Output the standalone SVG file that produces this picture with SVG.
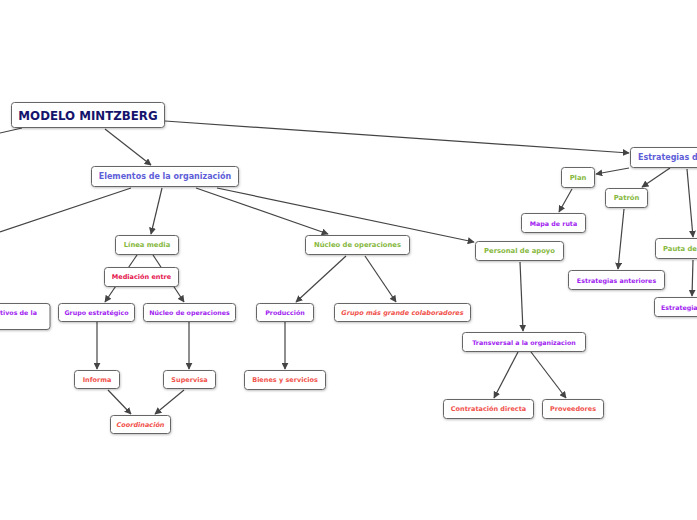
<svg xmlns="http://www.w3.org/2000/svg" width="697" height="520" viewBox="0 0 697 520">
<defs>
<marker id="ah" viewBox="0 0 10 10" refX="9" refY="5" markerWidth="7" markerHeight="7" markerUnits="userSpaceOnUse" orient="auto">
<path d="M0,0 L10,5 L0,10 z" fill="#444"/>
</marker>
<filter id="sh" x="-10%" y="-20%" width="120%" height="150%">
<feDropShadow dx="0.5" dy="1" stdDeviation="0.8" flood-color="#000" flood-opacity="0.25"/>
</filter>
</defs>
<style>
rect{fill:#fff;stroke:#666;stroke-width:1;filter:url(#sh)}
text{font-family:"DejaVu Sans",Verdana,sans-serif;font-weight:bold;text-anchor:middle;dominant-baseline:central}
.c line{stroke:#444;stroke-width:1.2;fill:none}
.a{marker-end:url(#ah)}
.t{font-size:11.8px;fill:#15146d}
.b{font-size:8px;fill:#5e5ed8}
.g{font-size:6.8px;fill:#86b83e}
.m{font-size:6.5px;fill:#e5164f}
.p{font-size:6.3px;fill:#a11df0}
.r{font-size:6.5px;fill:#f0524b}
.i{font-style:italic}
</style>
<rect width="697" height="520" fill="#fff" style="stroke:none;filter:none"/>
<g class="c" id="connectors">
<line x1="22" y1="128" x2="0" y2="133"/>
<line class="a" x1="165" y1="121" x2="629" y2="153"/>
<line class="a" x1="105" y1="129" x2="151" y2="165"/>
<line x1="131" y1="188" x2="0" y2="232"/>
<line class="a" x1="162" y1="188" x2="151" y2="234"/>
<line class="a" x1="196" y1="188" x2="328" y2="234"/>
<line class="a" x1="217" y1="188" x2="474" y2="242"/>
<line class="a" x1="137" y1="255" x2="105" y2="302"/>
<line class="a" x1="153" y1="255" x2="184" y2="302"/>
<line class="a" x1="97" y1="322" x2="97" y2="369"/>
<line class="a" x1="189" y1="322" x2="189" y2="369"/>
<line class="a" x1="108" y1="390" x2="131" y2="414"/>
<line class="a" x1="184" y1="390" x2="155" y2="414"/>
<line class="a" x1="346" y1="256" x2="296" y2="302"/>
<line class="a" x1="365" y1="256" x2="396" y2="302"/>
<line class="a" x1="285" y1="322" x2="285" y2="369"/>
<line class="a" x1="520" y1="262" x2="523" y2="331"/>
<line class="a" x1="518" y1="352" x2="494" y2="398"/>
<line class="a" x1="531" y1="352" x2="566" y2="398"/>
<line class="a" x1="629" y1="168" x2="596" y2="174"/>
<line class="a" x1="670" y1="168" x2="642" y2="187"/>
<line class="a" x1="687" y1="169" x2="693" y2="237"/>
<line class="a" x1="572" y1="189" x2="559" y2="212"/>
<line class="a" x1="624" y1="209" x2="618" y2="269"/>
<line class="a" x1="693" y1="260" x2="692" y2="296"/>
</g>
<g id="n-modelo"><rect x="11.5" y="102.5" width="153" height="25" rx="3"/><text class="t" x="88" y="115.5">MODELO MINTZBERG</text></g>
<g id="n-elementos"><rect x="91.5" y="166.5" width="147" height="20" rx="3"/><text class="b" x="165" y="176.5">Elementos de la organización</text></g>
<g id="n-objetivos"><rect x="-20" y="303.5" width="70" height="26" rx="3"/><text class="p" x="37" y="312.5" style="text-anchor:end">tivos de la</text></g>
<g id="n-linea"><rect x="115.5" y="235.5" width="63" height="19" rx="3"/><text class="g" x="147" y="245">Línea media</text></g>
<g id="n-mediacion"><rect x="104.5" y="267.5" width="74" height="19" rx="3"/><text class="m" x="141.5" y="277">Mediación entre</text></g>
<g id="n-grupoest"><rect x="58.5" y="303.5" width="76" height="18" rx="3"/><text class="p" x="96.5" y="312.5">Grupo estratégico</text></g>
<g id="n-nucleo2"><rect x="143.5" y="303.5" width="92" height="18" rx="3"/><text class="p" x="189.5" y="312.5">Núcleo de operaciones</text></g>
<g id="n-informa"><rect x="74.5" y="370.5" width="45" height="18" rx="3"/><text class="r" x="97" y="379.5">Informa</text></g>
<g id="n-supervisa"><rect x="163.5" y="370.5" width="52" height="18" rx="3"/><text class="r" x="189.5" y="379.5">Supervisa</text></g>
<g id="n-coord"><rect x="110.5" y="415.5" width="60" height="18" rx="3"/><text class="r i" x="140.5" y="424.5">Coordinación</text></g>
<g id="n-nucleo"><rect x="305.5" y="235.5" width="104" height="19" rx="3"/><text class="g" x="357.5" y="245">Núcleo de operaciones</text></g>
<g id="n-produccion"><rect x="256.5" y="303.5" width="57" height="18" rx="3"/><text class="p" x="285" y="312.5">Producción</text></g>
<g id="n-grupomas"><rect x="334.5" y="303.5" width="136" height="18" rx="3"/><text class="r i" x="402.5" y="312.5">Grupo más grande colaboradores</text></g>
<g id="n-bienes"><rect x="244.5" y="370.5" width="81" height="19" rx="3"/><text class="r" x="285" y="380">Bienes y servicios</text></g>
<g id="n-personal"><rect x="475.5" y="241.5" width="88" height="19" rx="3"/><text class="g" x="519.5" y="251">Personal de apoyo</text></g>
<g id="n-transversal"><rect x="462.5" y="332.5" width="123" height="19" rx="3"/><text class="p" x="524" y="342">Transversal a la organizacion</text></g>
<g id="n-contratacion"><rect x="443.5" y="399.5" width="90" height="19" rx="3"/><text class="r" x="488.5" y="409">Contratación directa</text></g>
<g id="n-proveedores"><rect x="542.5" y="399.5" width="61" height="19" rx="3"/><text class="r" x="573" y="409">Proveedores</text></g>
<g id="n-estrategias"><rect x="630.5" y="147.5" width="80" height="20" rx="3"/><text class="b" x="638" y="157.5" style="text-anchor:start">Estrategias d</text></g>
<g id="n-plan"><rect x="561.5" y="167.5" width="33" height="20" rx="3"/><text class="g" x="578" y="177.5">Plan</text></g>
<g id="n-patron"><rect x="605.5" y="188.5" width="42" height="19" rx="3"/><text class="g" x="626.5" y="198">Patrón</text></g>
<g id="n-pauta"><rect x="655.5" y="238.5" width="60" height="20" rx="3"/><text class="g" x="663" y="248.5" style="text-anchor:start">Pauta de</text></g>
<g id="n-mapa"><rect x="521.5" y="213.5" width="64" height="19" rx="3"/><text class="p" x="553.5" y="223">Mapa de ruta</text></g>
<g id="n-anteriores"><rect x="568.5" y="270.5" width="96" height="19" rx="3"/><text class="p" x="616.5" y="280">Estrategias anteriores</text></g>
<g id="n-estrategia2"><rect x="654.5" y="297.5" width="60" height="19" rx="3"/><text class="p" x="661" y="307" style="text-anchor:start">Estrategia</text></g>
</svg>
